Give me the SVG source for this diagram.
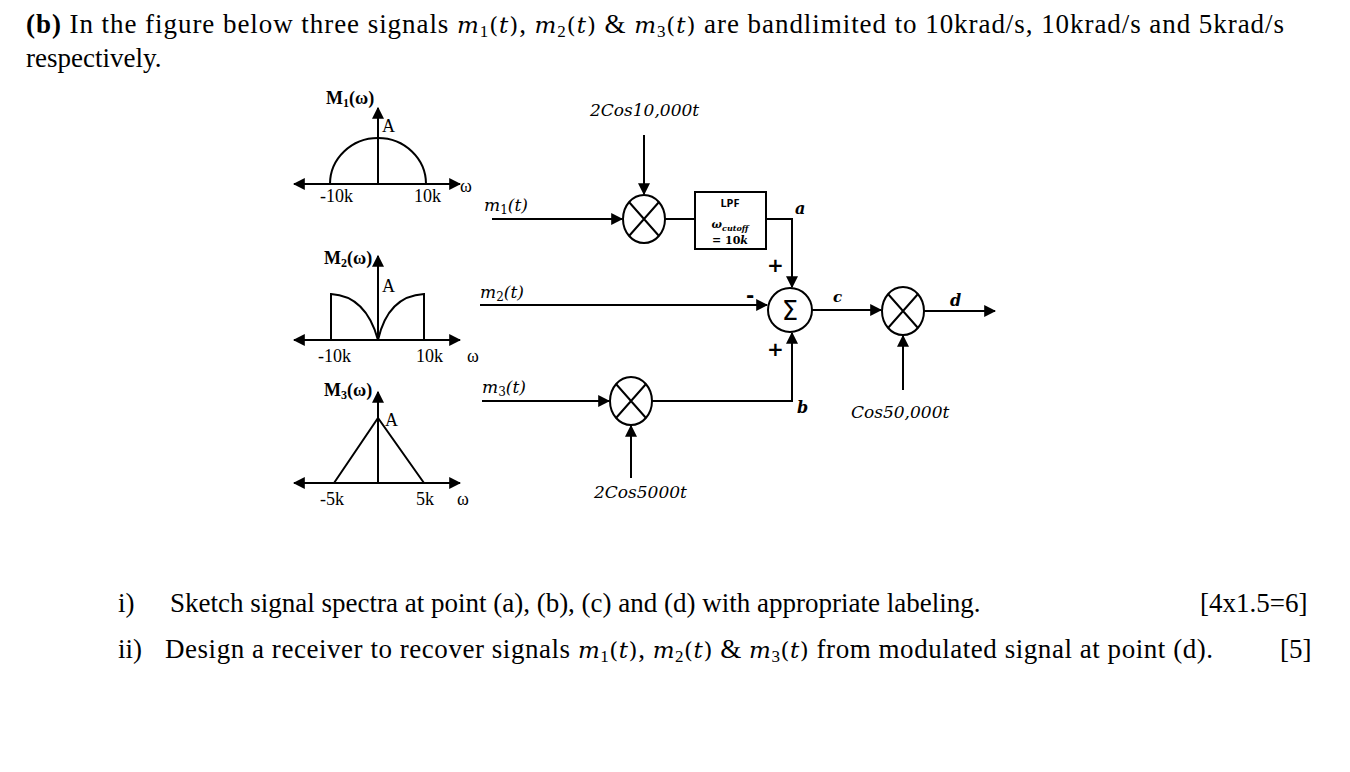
<svg xmlns="http://www.w3.org/2000/svg" width="1350" height="772" viewBox="0 0 1350 772">
<style>
.t{font-family:"Liberation Serif",serif;font-size:27px;fill:#000}
.s{font-family:"Liberation Serif",serif;font-size:18px;fill:#000}
.m{font-family:"DejaVu Serif",serif;font-style:italic;font-size:17px;fill:#000}
.l{stroke:#000;stroke-width:2;fill:none}
</style>
<defs><marker id="ar" viewBox="0 0 10 10" refX="9" refY="5" markerWidth="6" markerHeight="6" orient="auto-start-reverse"><path d="M0,0L10,5L0,10z"/></marker></defs>
<rect width="1350" height="772" fill="#fff"/>
<text class="t" x="26" y="33" textLength="1258" lengthAdjust="spacing"><tspan font-weight="bold">(b)</tspan> In the figure  below three signals <tspan font-family="DejaVu Serif" font-style="italic" font-size="23">m</tspan><tspan font-size="17" dy="4">1</tspan><tspan font-family="DejaVu Serif" font-size="23" dy="-4">(<tspan font-style="italic">t</tspan>)</tspan>, <tspan font-family="DejaVu Serif" font-style="italic" font-size="23">m</tspan><tspan font-size="17" dy="4">2</tspan><tspan font-family="DejaVu Serif" font-size="23" dy="-4">(<tspan font-style="italic">t</tspan>)</tspan> &amp; <tspan font-family="DejaVu Serif" font-style="italic" font-size="23">m</tspan><tspan font-size="17" dy="4">3</tspan><tspan font-family="DejaVu Serif" font-size="23" dy="-4">(<tspan font-style="italic">t</tspan>)</tspan> are bandlimited  to 10krad/s, 10krad/s and 5krad/s</text>
<text class="t" x="26" y="67">respectively.</text>
<g id="spec1">
<line class="l" x1="294" y1="184" x2="460" y2="184" marker-start="url(#ar)" marker-end="url(#ar)"/>
<line class="l" x1="378" y1="184" x2="378" y2="108" marker-end="url(#ar)"/>
<path class="l" d="M330,184A48,46 0 0 1 426,184"/>
<text class="s" x="326" y="104" font-weight="bold">M<tspan font-size="12" dy="3">1</tspan><tspan dy="-3">(ω)</tspan></text>
<text class="s" x="382" y="132">A</text>
<text class="s" x="320" y="202">-10k</text><text class="s" x="414" y="202">10k</text><text class="s" x="460" y="192" font-size="13">ω</text>
</g>
<g id="spec2">
<line class="l" x1="294" y1="340" x2="460" y2="340" marker-start="url(#ar)" marker-end="url(#ar)"/>
<line class="l" x1="378" y1="340" x2="378" y2="256" marker-end="url(#ar)"/>
<path class="l" d="M331,340V294Q366,296 378,340Q388,296 424,294V340"/>
<text class="s" x="324" y="264" font-weight="bold">M<tspan font-size="12" dy="3">2</tspan><tspan dy="-3">(ω)</tspan></text>
<text class="s" x="382" y="292">A</text>
<text class="s" x="318" y="362">-10k</text><text class="s" x="416" y="362">10k</text><text class="s" x="467" y="362" font-size="15">ω</text>
</g>
<g id="spec3">
<line class="l" x1="294" y1="483" x2="460" y2="483" marker-start="url(#ar)" marker-end="url(#ar)"/>
<line class="l" x1="378" y1="483" x2="378" y2="392" marker-end="url(#ar)"/>
<path class="l" d="M334,483L378,418L424,483"/>
<text class="s" x="324" y="396" font-weight="bold">M<tspan font-size="12" dy="3">3</tspan><tspan dy="-3">(ω)</tspan></text>
<text class="s" x="385" y="426">A</text>
<text class="s" x="320" y="505">-5k</text><text class="s" x="416" y="505">5k</text><text class="s" x="457" y="505" font-size="15">ω</text>
</g>
<g id="mult1"><ellipse class="l" cx="644" cy="219" rx="21" ry="24"/><path class="l" d="M629,202L659,236M659,202L629,236"/></g>
<g id="lpf"><rect class="l" x="695" y="192" width="71" height="57"/>
<text x="730" y="207" text-anchor="middle" font-family="Open Sans,sans-serif" font-weight="bold" font-size="11">LPF</text>
<text x="730" y="228" text-anchor="middle" font-family="DejaVu Serif,serif" font-style="italic" font-weight="bold" font-size="11">ω<tspan font-size="8" dy="3">cutoff</tspan></text>
<text x="730" y="244" text-anchor="middle" font-family="DejaVu Serif,serif" font-weight="bold" font-size="11">= 10<tspan font-style="italic">k</tspan></text></g>
<g id="sum"><circle class="l" cx="790" cy="310" r="22"/><text x="790" y="320" text-anchor="middle" font-family="DejaVu Sans,sans-serif" font-size="26">Σ</text></g>
<g id="mult3"><ellipse class="l" cx="631" cy="401" rx="21" ry="24"/><path class="l" d="M616,384L646,418M646,384L616,418"/></g>
<g id="mult4"><ellipse class="l" cx="903" cy="311" rx="21" ry="24"/><path class="l" d="M888,294L918,328M918,294L888,328"/></g>
<g id="connectors">
<line class="l" x1="492" y1="219" x2="622" y2="219" marker-end="url(#ar)"/>
<line class="l" x1="644" y1="135" x2="644" y2="194" marker-end="url(#ar)"/>
<line class="l" x1="665" y1="219" x2="695" y2="219"/>
<path class="l" d="M766,219H792V287" marker-end="url(#ar)"/>
<line class="l" x1="480" y1="305" x2="767" y2="305" marker-end="url(#ar)"/>
<line class="l" x1="482" y1="401" x2="609" y2="401" marker-end="url(#ar)"/>
<line class="l" x1="631" y1="478" x2="631" y2="426" marker-end="url(#ar)"/>
<path class="l" d="M652,401H792V333" marker-end="url(#ar)"/>
<line class="l" x1="812" y1="310" x2="881" y2="310" marker-end="url(#ar)"/>
<line class="l" x1="924" y1="311" x2="995" y2="311" marker-end="url(#ar)"/>
<line class="l" x1="903" y1="390" x2="903" y2="336" marker-end="url(#ar)"/>
</g>
<text class="m" x="590" y="116">2Cos10,000t</text>
<text class="m" x="484" y="211">m<tspan font-size="12" font-style="normal" dy="3">1</tspan><tspan dy="-3">(t)</tspan></text>
<text class="m" x="480" y="298">m<tspan font-size="12" font-style="normal" dy="3">2</tspan><tspan dy="-3">(t)</tspan></text>
<text class="m" x="482" y="393">m<tspan font-size="12" font-style="normal" dy="3">3</tspan><tspan dy="-3">(t)</tspan></text>
<text class="m" x="594" y="498">2Cos5000t</text>
<text class="m" x="851" y="418">Cos50,000t</text>
<text x="795" y="214" font-family="DejaVu Serif,serif" font-style="italic" font-weight="bold" font-size="16">a</text>
<text x="797" y="413" font-family="DejaVu Serif,serif" font-style="italic" font-weight="bold" font-size="16">b</text>
<text x="833" y="302" font-family="DejaVu Serif,serif" font-style="italic" font-weight="bold" font-size="15">c</text>
<text x="950" y="306" font-family="DejaVu Serif,serif" font-style="italic" font-weight="bold" font-size="16">d</text>
<text x="767" y="272" font-family="DejaVu Sans,sans-serif" font-weight="bold" font-size="20">+</text>
<text x="767" y="356" font-family="DejaVu Sans,sans-serif" font-weight="bold" font-size="20">+</text>
<text x="746" y="302" font-family="DejaVu Sans,sans-serif" font-weight="bold" font-size="20">-</text>
<text class="t" x="118" y="612">i)</text><text class="t" x="170" y="612">Sketch signal spectra at point (a), (b), (c) and (d) with appropriate labeling.</text><text class="t" x="1200" y="612">[4x1.5=6]</text>
<text class="t" x="118" y="658">ii)</text><text class="t" x="165" y="658" textLength="1048" lengthAdjust="spacing">Design a receiver to recover signals  <tspan font-family="DejaVu Serif" font-style="italic" font-size="23">m</tspan><tspan font-size="17" dy="4">1</tspan><tspan font-family="DejaVu Serif" font-size="23" dy="-4">(<tspan font-style="italic">t</tspan>)</tspan>, <tspan font-family="DejaVu Serif" font-style="italic" font-size="23">m</tspan><tspan font-size="17" dy="4">2</tspan><tspan font-family="DejaVu Serif" font-size="23" dy="-4">(<tspan font-style="italic">t</tspan>)</tspan> &amp; <tspan font-family="DejaVu Serif" font-style="italic" font-size="23">m</tspan><tspan font-size="17" dy="4">3</tspan><tspan font-family="DejaVu Serif" font-size="23" dy="-4">(<tspan font-style="italic">t</tspan>)</tspan> from modulated signal at point (d).</text><text class="t" x="1280" y="658">[5]</text>
</svg>
